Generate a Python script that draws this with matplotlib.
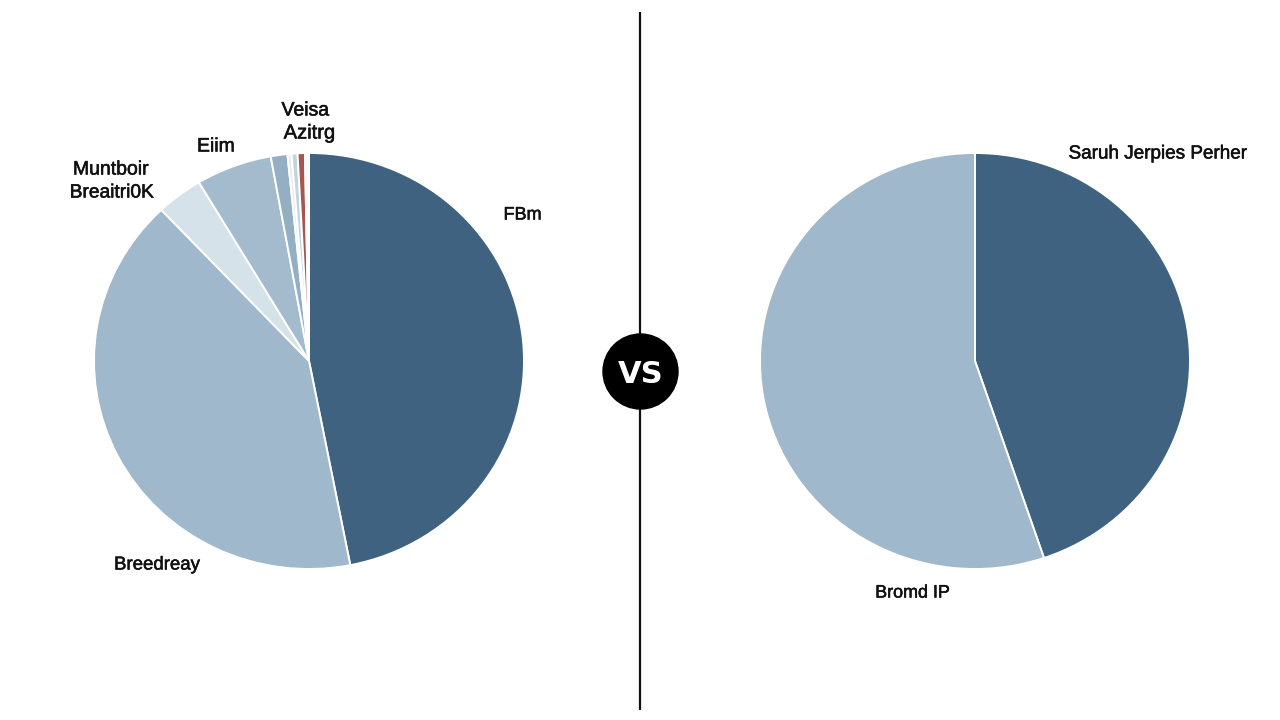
import matplotlib
matplotlib.use("Agg")
import matplotlib.pyplot as plt
import matplotlib.patheffects as pe
from matplotlib.patches import Circle

plt.rcParams['font.family'] = ['Liberation Sans', 'DejaVu Sans']

# shares, clockwise from 12 o'clock
left_values = [46.9, 41.0, 3.5, 5.7, 1.25, 0.3, 0.45, 0.55, 0.3]
left_colors = ['#3f6280', '#9fb8cb', '#d6e2ea', '#a3bbcd', '#94afc4', '#e4ecf1', '#c3d4df', '#a5574f', '#f7f9fa']
right_values = [44.8, 55.2]
right_colors = ['#3f6280', '#9fb8cb']

left_labels = ['FBm', 'Breedreay', 'Eiim', 'Veisa', 'Azitrg', 'Muntboir', 'Breaitri0K']
right_labels = ['Saruh Jerpies Perher', 'Bromd IP']

W, H = 1280, 720
fig = plt.figure(figsize=(12.8, 7.2), dpi=100, facecolor='white')


def draw_pie(x0, x1, y0, y1, values, colors):
    # reference pies are a bit wider than tall, so the axes is not square
    ax = fig.add_axes([x0 / W, 1 - y1 / H, (x1 - x0) / W, (y1 - y0) / H])
    ax.pie(values, colors=colors, startangle=90, counterclock=False, radius=1,
           wedgeprops={'edgecolor': 'white', 'linewidth': 1.4})
    ax.set_aspect('auto')
    ax.set_xlim(-1, 1)
    ax.set_ylim(-1, 1)
    for p in ax.patches:
        p.set_clip_on(False)
    return ax


draw_pie(94, 524, 153, 569, left_values, left_colors)
draw_pie(760, 1190, 153, 569, right_values, right_colors)

# overlay in pixel coords for the divider, badge and labels
over = fig.add_axes([0, 0, 1, 1])
over.set_xlim(0, W)
over.set_ylim(H, 0)
over.axis('off')
over.patch.set_alpha(0)

over.plot([640, 640], [12, 710], color='#111111', lw=1.6, solid_capstyle='butt')
over.add_patch(Circle((640.5, 371.5), 37.5, color='black', zorder=3))
over.text(640.5, 374.5, 'VS', color='white', fontsize=22, fontweight='bold',
          family='DejaVu Sans', ha='center', va='center', zorder=4)

# x px, y px, font size for each label, same order as the names above
left_spots = [(522.5, 215, 13), (157, 565, 13.4), (216, 147, 14), (305.5, 111, 14),
              (309.5, 133, 14.5), (111, 170, 14), (111.5, 193, 13.8)]
right_spots = [(1157.5, 154, 13.6), (912.5, 593, 12.9)]

for label, (x, y, size) in zip(left_labels + right_labels, left_spots + right_spots):
    t = over.text(x, y, label, fontsize=size, color='#111111', ha='center', va='center')
    # reference glyphs look a little heavier than regular weight
    t.set_path_effects([pe.withStroke(linewidth=0.4, foreground='#111111')])

fig.savefig('out.png', dpi=100)
